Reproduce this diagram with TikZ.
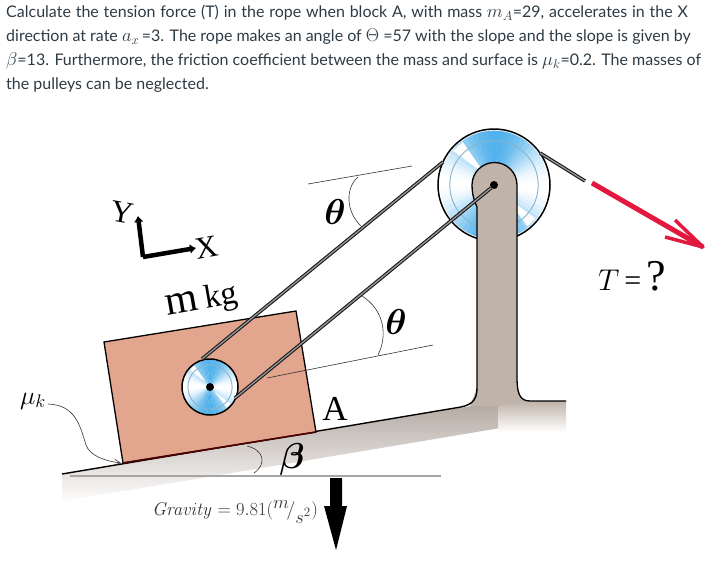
\documentclass[tikz,border=0pt]{standalone}
\usepackage{fix-cm}
\usepackage[no-math]{fontspec}
\setmainfont{Lato}
\newfontfamily\serifl{Liberation Serif}
\usepackage{amsmath}
\usepackage{amssymb}
\usetikzlibrary{arrows.meta}
\definecolor{blockfill}{HTML}{E2A58D}
\definecolor{postfill}{HTML}{BFB3AA}
\definecolor{fanblue}{HTML}{3FA9EA}
\definecolor{ringblue}{HTML}{86B4CC}
\definecolor{pullred}{HTML}{E2183F}
\definecolor{textgrey}{HTML}{2D3B45}
\tikzset{
  question/.style={anchor=west,inner sep=0pt,text=textgrey,font=\fontsize{16}{18}\selectfont},
  thinline/.style={draw=black!80,line width=0.6pt},
  rope/.style={draw=black!90,line width=1.1pt,double=black!40,double distance=1.3pt},
  figlabel/.style={inner sep=0pt,font=\serifl\fontsize{31}{33}\selectfont},
  mathlabel/.style={inner sep=0pt,font=\boldmath\fontsize{36}{38}\selectfont},
}
\newcommand{\qm}[1]{{\fontsize{18.5}{18}\selectfont$#1$}}
\newcommand{\pulleyfan}[2]{
  \begin{scope}[shift={(#1)},y=1pt]
    \fill[white] (0,0) circle[radius=#2];
    \foreach \a in {0,6,...,354}{
      \pgfmathsetmacro\tint{90*abs(cos(\a-85))^2}
      \fill[fanblue!\tint!white] (0,0) -- (\a:#2*0.97) arc[start angle=\a,end angle=\a+6.5,radius=#2*0.97] -- cycle;
    }
    \fill[white] (130:#2*0.25) -- (126:#2*0.95) -- (140:#2*0.95) -- cycle;
    \fill[white] (-45:#2*0.25) -- (-51:#2*0.95) -- (-39:#2*0.95) -- cycle;
    \draw[ringblue,line width=0.9pt] (0,0) circle[radius=#2*0.79];
    \draw[black,line width=1.5pt] (0,0) circle[radius=#2];
  \end{scope}
}
\begin{document}
\begin{tikzpicture}[x=1pt,y=-1pt]
  \useasboundingbox (0,0) rectangle (722,568);
  % question text
  \node[question] (lineA) at (6,13) {\spaceskip=4.8pt Calculate the tension force (T) in the rope when block A, with mass \qm{m_A}=29, accelerates in the X};
  \node[question] (lineB) at (6,37) {direction at rate \qm{a_x}\,=3. The rope makes an angle of \qm{\Theta} =57 with the slope and the slope is given by};
  \node[question] (lineC) at (6,61) {\qm{\beta}=13. Furthermore, the friction coefficient between the mass and surface is \qm{\mu_k}=0.2. The masses of};
  \node[question] (lineD) at (6,85) {the pulleys can be neglected.};
  % ground
  \begin{scope}
    \clip (62,474) -- (477,405) -- (498,405) -- (498,432) -- (62,501) -- cycle;
    \begin{scope}[shift={(62,474)},rotate=9.5]
      \shade[top color=postfill!90!black,bottom color=white] (-20,-5) rectangle (460,27);
    \end{scope}
  \end{scope}
  \shade[top color=postfill,bottom color=white] (498,401) rectangle (566,432);
  % big pulley
  \coordinate (bigc) at (494,185);
  \pulleyfan{bigc}{56}
  % post
  \fill[postfill] (477,207) .. controls (473,198) and (472,192) .. (472,185)
    arc[start angle=180,end angle=360,radius=22.5] -- (517,377)
    .. controls (517,392) and (519,401) .. (530,401) -- (498,406) -- (470,406) -- (477,388) -- cycle;
  \draw[black,line width=1.3pt] (477,388) -- (477,207) .. controls (473,198) and (472,192) .. (472,185)
    arc[start angle=180,end angle=360,radius=22.5] -- (517,377)
    .. controls (517,392) and (519,401) .. (530,401) -- (566,401);
  \draw[black,line width=1.4pt] (62,474) -- (455,408) .. controls (470,406) and (477,402) .. (477,388);
  % block
  \fill[blockfill,draw=black,line width=1.3pt] (104,342) -- (296,311) -- (316,432) -- (123,463) -- cycle;
  \draw[black!70!red,line width=1.6pt] (123,463) -- (316,432);
  % reference lines and angles
  \coordinate (upL) at (308,184);
  \coordinate (upR) at (412,166);
  \coordinate (lowL) at (267,378);
  \coordinate (lowR) at (433,345);
  \draw[thinline] (upL) -- (upR);
  \draw[thinline] (lowL) -- (lowR);
  \draw[thinline] (358,177) .. controls (345,188) and (346,212) .. (361,226);
  \draw[thinline] (362,296) .. controls (384,310) and (388,335) .. (378,355);
  \draw[thinline] (247,446) .. controls (264,450) and (267,464) .. (254,473);
  \draw[black!35,line width=1.3pt] (70,476) -- (441,476);
  % small pulley
  \coordinate (smallc) at (210,387);
  \pulleyfan{smallc}{28}
  \fill[black] (smallc) circle[radius=4];
  \fill[black] (bigc) circle[radius=4];
  % ropes
  \coordinate (ropeA) at (202,359);
  \coordinate (ropeB) at (443,162);
  \coordinate (ropeC) at (235,398);
  \coordinate (ropeD) at (491,188);
  \coordinate (ropeE) at (540,153);
  \coordinate (ropeF) at (585,181);
  \draw[rope] (ropeA) -- (ropeB);
  \draw[rope] (ropeC) -- (ropeD);
  \draw[rope] (ropeE) -- (ropeF);
  % pull arrow
  \coordinate (pullS) at (592,183);
  \coordinate (pullT) at (703,247);
  \coordinate (pullU) at (675,220);
  \coordinate (pullV) at (665,237);
  \draw[pullred,line width=5pt] (pullS) -- (pullT);
  \draw[pullred,line width=3.5pt,line join=round] (pullU) -- (pullT) -- (pullV);
  \node[inner sep=0pt,font=\serifl\fontsize{30}{34}\selectfont] (tlabel) at (632,276) {$T$\,=\,\fontsize{44}{46}\selectfont ?};
  % axes
  \coordinate (axO) at (143,257);
  \coordinate (axY) at (138,216);
  \coordinate (axX) at (196,248);
  \draw[line width=4.5pt,-{Latex[length=6pt,width=10pt]}] (axO) -- (axY);
  \draw[line width=4.5pt,-{Latex[length=6pt,width=10pt]}] (axO) -- (axX);
  \node[figlabel,rotate=-10] (ylabel) at (122,212) {Y};
  \node[figlabel,rotate=10] (xlabel) at (207,248) {X};
  \node[inner sep=0pt,rotate=10,font=\serifl] (mlabel) at (202,301) {\fontsize{42}{44}\selectfont m\,\fontsize{33}{35}\selectfont kg};
  \node[figlabel,font=\serifl\fontsize{35}{37}\selectfont] (alabel) at (335,409) {A};
  % angle labels
  \node[mathlabel] (thetaU) at (335,212) {$\theta$};
  \node[mathlabel] (thetaL) at (396,322) {$\theta$};
  \node[mathlabel] (betal) at (292,459) {$\beta$};
  % friction
  \node[inner sep=0pt,font=\fontsize{26}{29}\selectfont] (mulabel) at (33,401) {$\mu_k$};
  \coordinate (muS) at (48,404);
  \coordinate (muT) at (121,463);
  \draw[thinline,-{Straight Barb[length=6pt,width=6pt]}] (muS) .. controls (75,405) and (80,425) .. (86,445) .. controls (90,456) and (105,461) .. (muT);
  % gravity
  \node[inner sep=0pt,anchor=west,text=black!80,font=\fontsize{18.5}{22}\selectfont] (gravity) at (152,512) {$\mathit{Gravity}=9.81({}^{\textstyle m}\!/_{\textstyle s^2})$};
  \fill[black] (330,478) -- (342,478) -- (342,506) -- (347,506) -- (336,550) -- (324,506) -- (330,506) -- cycle;
\end{tikzpicture}
\end{document}
